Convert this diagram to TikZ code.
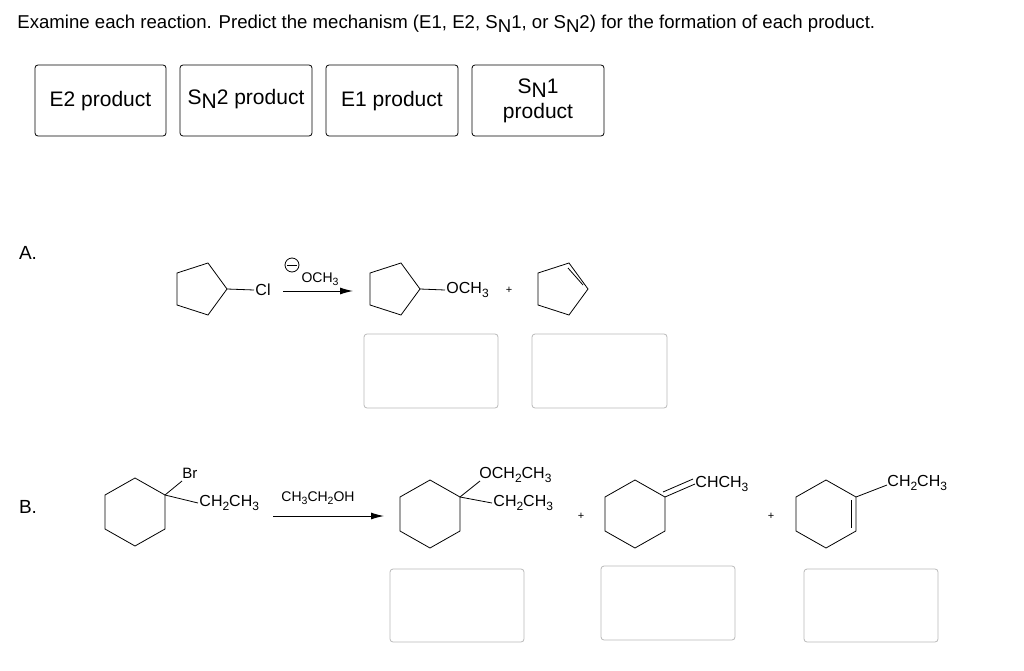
\documentclass[tikz,border=0pt]{standalone}
\usepackage{fontspec}
\setmainfont{Liberation Sans}
\usetikzlibrary{arrows.meta}
\newcommand{\sbt}[1]{\raisebox{-0.45ex}{\scalebox{0.75}{#1}}}
\begin{document}
\begin{tikzpicture}[x=1pt,y=-1pt,line width=0.9pt,
  choice/.style={draw=black,rounded corners=3pt,line width=0.8pt},
  ans/.style={draw=gray!55,rounded corners=3pt,line width=0.8pt},
  lbl/.style={font=\fontsize{21}{25}\selectfont,align=center},
  chem/.style={font=\fontsize{16}{18}\selectfont,inner sep=1pt},
  bond/.style={line width=0.8pt},
  rxn/.style={line width=1pt,-{Latex[length=13pt,width=7pt]}}]
\useasboundingbox (0,0) rectangle (1024,671);
\newcommand{\SN}{S\raisebox{-0.35ex}{N}}
\node[anchor=west,font=\fontsize{18.6}{22}\selectfont,inner sep=0pt] (title) at (17,24) {Examine each reaction. Predict the mechanism (E1, E2, \SN1, or \SN2) for the formation of each product.};
% choice boxes
\draw[choice] (35,65) rectangle (166,136);
\node[lbl] (c1) at (100.5,101) {E2 product};
\draw[choice] (180,65) rectangle (312,136);
\node[lbl] (c2) at (246,99) {\SN2 product};
\draw[choice] (326,65) rectangle (458,136);
\node[lbl] (c3) at (392,101) {E1 product};
\draw[choice] (472,65) rectangle (604,136);
\node[lbl,font=\fontsize{21}{25}\selectfont] (c4) at (538,101) {\SN1\\product};
\node[font=\fontsize{19}{20}\selectfont] (lA) at (28,253) {A.};
\node[font=\fontsize{19}{20}\selectfont] (lB) at (28,507) {B.};
% ---- A ----
\draw[bond] (227,289) -- (208,263) -- (177,273) -- (177,305) -- (208,315) -- cycle;
\node[chem,anchor=west] (cl) at (254,290) {Cl};
\draw[bond] (227,289) -- (cl.west);
\node[chem,font=\fontsize{14}{16}\selectfont] (och) at (320,279) {OCH\sbt{3}};
\node[draw,circle,minimum size=14pt,inner sep=0pt,line width=0.8pt] (neg) at (292,265) {};
\draw[line width=0.8pt] (287,265) -- (297,265);
\coordinate (a1s) at (283,291); \coordinate (a1e) at (353,291);
\draw[rxn] (a1s) -- (a1e);
\draw[bond] (420,289) -- (401,263) -- (370,273) -- (370,305) -- (401,315) -- cycle;
\node[chem,anchor=west] (ome) at (445,290) {OCH\sbt{3}};
\draw[bond] (420,289) -- (ome.west);
\node[chem,font=\fontsize{11}{12}\selectfont] (p1) at (509,290) {+};
\draw[bond] (588,289) -- (569,263) -- (538,273) -- (538,305) -- (569,315) -- cycle;
\draw[bond] (583,285) -- (568,268);
\draw[ans] (364,334) rectangle (498,408);
\draw[ans] (532,334) rectangle (667,408);
% ---- B ----
\draw[bond] (165,495) -- (135,478) -- (105,495) -- (105,529) -- (135,546) -- (165,529) -- cycle;
\node[chem,anchor=west,font=\fontsize{15}{16}\selectfont] (br) at (181,473) {Br};
\draw[bond] (165,495) -- (182,481);
\node[chem,anchor=west] (et1) at (198,503) {CH\sbt{2}CH\sbt{3}};
\draw[bond] (165,495) -- (et1.west);
\node[chem,font=\fontsize{14}{16}\selectfont] (etoh) at (318,498) {CH\sbt{3}CH\sbt{2}OH};
\coordinate (a2s) at (273,516); \coordinate (a2e) at (384,516);
\draw[rxn] (a2s) -- (a2e);
\draw[bond] (460,497) -- (430,480) -- (400,497) -- (400,531) -- (430,548) -- (460,531) -- cycle;
\node[chem,anchor=west] (oet) at (478,475) {OCH\sbt{2}CH\sbt{3}};
\draw[bond] (460,497) -- (480,481);
\node[chem,anchor=west] (et2) at (492,503) {CH\sbt{2}CH\sbt{3}};
\draw[bond] (460,497) -- (et2.west);
\node[chem,font=\fontsize{11}{12}\selectfont] (p2) at (581,516) {+};
\draw[bond] (665,497) -- (635,480) -- (605,497) -- (605,531) -- (635,548) -- (665,531) -- cycle;
\node[chem,anchor=west] (chch) at (694,484) {CHCH\sbt{3}};
\draw[bond] (665,497) -- (695,484);
\draw[bond] (663,492) -- (693,479);
\node[chem,font=\fontsize{11}{12}\selectfont] (p3) at (771,516) {+};
\draw[bond] (856,497) -- (826,480) -- (796,497) -- (796,531) -- (826,548) -- (856,531) -- cycle;
\draw[bond] (851,500) -- (851,528);
\node[chem,anchor=west] (et3) at (886,483) {CH\sbt{2}CH\sbt{3}};
\draw[bond] (856,497) -- (887,485);
\draw[ans] (390,569) rectangle (524,642);
\draw[ans] (601,566) rectangle (735,640);
\draw[ans] (804,569) rectangle (938,642);
\end{tikzpicture}
\end{document}
